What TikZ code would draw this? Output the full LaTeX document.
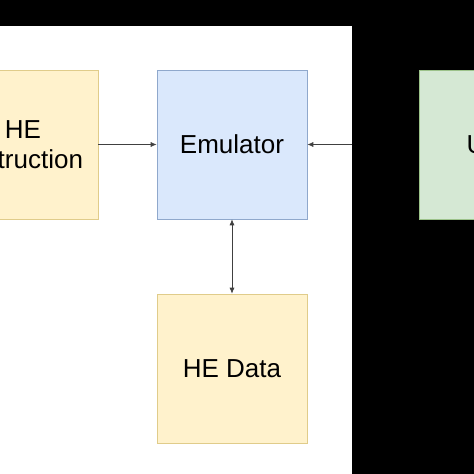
\documentclass[tikz,border=0pt]{standalone}
\usepackage{fontspec}
\setmainfont{Liberation Sans}
\usetikzlibrary{arrows.meta}
\definecolor{yfill}{HTML}{FFF2CC}
\definecolor{ydraw}{HTML}{E0CC8A}
\definecolor{bfill}{HTML}{DAE8FC}
\definecolor{bdraw}{HTML}{8FA8CC}
\definecolor{gfill}{HTML}{D5E8D4}
\definecolor{gdraw}{HTML}{9CC28A}
\begin{document}
\begin{tikzpicture}[x=1pt,y=-1pt,
  box/.style={minimum width=150pt,minimum height=149pt,inner sep=0pt,line width=0.6pt,
    font=\fontsize{26}{30}\selectfont,align=center,text=black},
  ybox/.style={box,fill=yfill,draw=ydraw},
  bbox/.style={box,fill=bfill,draw=bdraw},
  gbox/.style={box,fill=gfill,draw=gdraw},
  tip/.style={Latex[length=6pt,width=5pt]},
  conn/.style={draw=black!75,line width=0.7pt,-{Latex[length=6pt,width=5pt]}},
  dconn/.style={draw=black!75,line width=0.7pt,{Latex[length=6pt,width=5pt]}-{Latex[length=6pt,width=5pt]}}]
\clip (0,0) rectangle (474,474);
\fill[black] (0,0) rectangle (474,474);
\fill[white] (0,26) rectangle (352,474);
\node[ybox] (instr) at (23,144.5) {HE\\Instruction};
\node[bbox] (emu) at (232,144.5) {Emulator};
\node[ybox] (data) at (232,368.5) {HE Data};
\draw[conn] (instr) -- (emu);
\draw[dconn] (emu) -- (data);
\coordinate (edge) at (352,144.5);
\draw[conn] (edge) -- (emu.east);
\node[gbox] (user) at (494,144.5) {User};
\end{tikzpicture}
\end{document}
